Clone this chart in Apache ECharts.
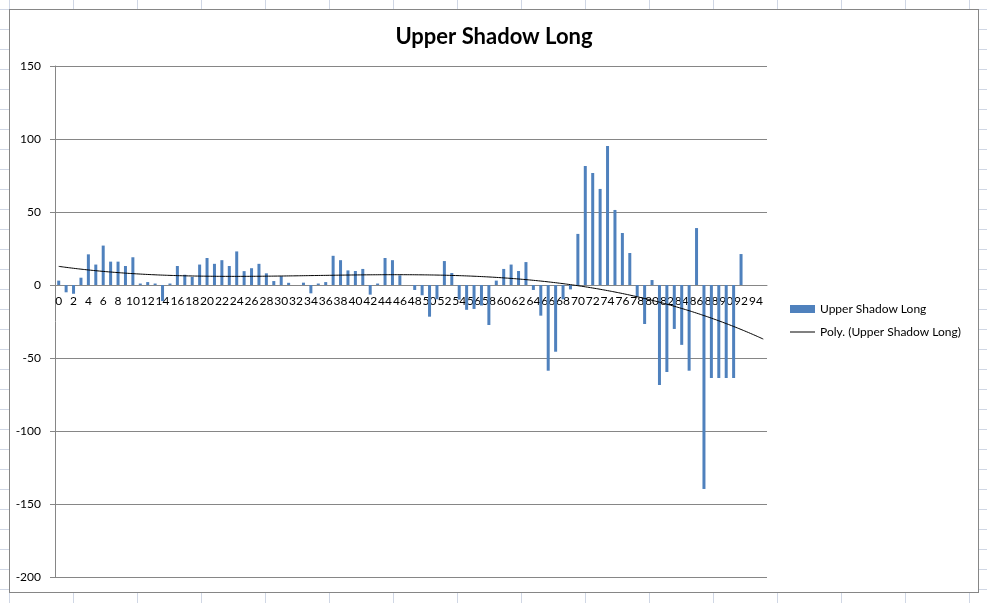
<!DOCTYPE html>
<html>
<head>
<meta charset="utf-8">
<title>Upper Shadow Long</title>
<script src="https://cdn.jsdelivr.net/npm/echarts@6/dist/echarts.min.js"></script>
<style>
    html, body {
        margin: 0;
        padding: 0;
        width: 987px;
        height: 603px;
        overflow: hidden;
        background-color: #fff;
        background-image: linear-gradient(to right, #d0d7e5 1px, transparent 1px),
                          linear-gradient(to bottom, #d0d7e5 1px, transparent 1px);
        background-size: 64px 20px;
        background-position: 9px 9px;
    }
    #chart {
        position: absolute;
        left: 9px;
        top: 9px;
        width: 970px;
        height: 584px;
        box-sizing: border-box;
        border: 1px solid #868686;
        background: #fff;
    }
</style>
</head>
<body>
<div id="chart"></div>
<script type="text/javascript">
// categories 0..95
var categories = [];
for (var i = 0; i < 96; i++) categories.push(String(i));

// values
var upperShadow = [
    3, -5, -6, 5, 21, 14, 27, 16, 16, 13,
    19, 1, 2, 1, -11, 1, 13, 7, 5.5, 14,
    18.5, 14.5, 17, 13, 23, 9.5, 11.5, 14.5, 8, 2.7,
    6, 1.5, 0, 1.6, -5.7, 1, 2, 20, 17, 10,
    9.6, 11, -6.6, 1, 18.5, 17, 6.6, 0, -3.4, -7,
    -21.7, -9.8, 16.4, 8.2, -10, -17, -16.4, -14, -27.4, 3,
    11, 14, 9.6, 15.7, -3.4, -21, -58.7, -45.7, -9.8, -3,
    35, 81.5, 76.7, 65.8, 95.2, 51.4, 35.6, 21.9, -8, -26.7,
    3.4, -68.5, -59.6, -30.1, -41, -58.7, 39, -139.7, -63.7, -63.7,
    -63.7, -63.7, 21.2, 0, 0, 0
];

var yTicks = { min: -200, max: 150, step: 50 };

// polynomial trendline (order 3), least squares like Excel's "Poly."
function polyFit(ys, order) {
    var n = order + 1, A = [], b = [];
    for (var r = 0; r < n; r++) {
        A.push([]);
        for (var c = 0; c < n; c++) A[r].push(0);
        b.push(0);
    }
    ys.forEach(function (y, x) {
        if (y === null) return;
        for (var r = 0; r < n; r++) {
            for (var c = 0; c < n; c++) A[r][c] += Math.pow(x, r + c);
            b[r] += y * Math.pow(x, r);
        }
    });
    for (var k = 0; k < n; k++) {
        var p = k;
        for (var r = k + 1; r < n; r++) if (Math.abs(A[r][k]) > Math.abs(A[p][k])) p = r;
        var t = A[k]; A[k] = A[p]; A[p] = t;
        t = b[k]; b[k] = b[p]; b[p] = t;
        for (var r = k + 1; r < n; r++) {
            var f = A[r][k] / A[k][k];
            for (var c = k; c < n; c++) A[r][c] -= f * A[k][c];
            b[r] -= f * b[k];
        }
    }
    var coef = [];
    for (var k = n - 1; k >= 0; k--) {
        var s = b[k];
        for (var c = k + 1; c < n; c++) s -= A[k][c] * coef[c];
        coef[k] = s / A[k][k];
    }
    return coef;
}
var coef = polyFit(upperShadow, 3);
var trend = categories.map(function (c, x) {
    var v = 0;
    for (var k = 0; k < coef.length; k++) v += coef[k] * Math.pow(x, k);
    return v;
});

var gridTop = 56, gridBottom = 15, chartH = 582;
var plotH = chartH - gridTop - gridBottom;
// move the category axis up to the value 0
var zeroOffset = -plotH * (0 - yTicks.min) / (yTicks.max - yTicks.min);

var font = 'Lato, "Open Sans", sans-serif';
var myChart = echarts.init(document.getElementById('chart'));
var option = {
    animation: false,
    textStyle: { fontFamily: font },
    title: {
        text: 'Upper Shadow Long',
        left: 'center',
        top: 11,
        textStyle: { fontFamily: font, fontSize: 22, fontWeight: 'bold', color: '#000' }
    },
    legend: [{
        orient: 'vertical',
        left: 780,
        top: 293,
        padding: 0,
        icon: 'rect',
        itemWidth: 25,
        itemHeight: 8,
        itemGap: 4,
        textStyle: { fontFamily: font, fontSize: 12, color: '#000' },
        data: ['Upper Shadow Long']
    }, {
        orient: 'vertical',
        left: 780,
        top: 316,
        padding: 0,
        icon: 'rect',
        itemWidth: 25,
        itemHeight: 1,
        itemGap: 4,
        itemStyle: { color: '#000' },
        textStyle: { fontFamily: font, fontSize: 12, color: '#000' },
        data: ['Poly. (Upper Shadow Long)']
    }],
    grid: { left: 45, right: 211, top: gridTop, bottom: gridBottom },
    xAxis: {
        type: 'category',
        data: categories,
        boundaryGap: true,
        offset: zeroOffset,
        axisLine: { onZero: false, lineStyle: { color: '#868686' } },
        axisTick: { interval: 0, length: 5, lineStyle: { color: '#868686' } },
        axisLabel: { interval: 1, margin: 10, fontSize: 12, color: '#000', fontFamily: font }
    },
    yAxis: {
        type: 'value',
        min: yTicks.min,
        max: yTicks.max,
        interval: yTicks.step,
        axisLine: { show: true, lineStyle: { color: '#868686' } },
        axisTick: { show: true, length: 5, lineStyle: { color: '#868686' } },
        axisLabel: { margin: 14, fontSize: 12, color: '#000', fontFamily: font },
        splitLine: { lineStyle: { color: '#868686' } }
    },
    series: [{
        name: 'Upper Shadow Long',
        type: 'bar',
        data: upperShadow,
        barWidth: 3,
        itemStyle: { color: '#4f81bd' }
    }, {
        name: 'Poly. (Upper Shadow Long)',
        type: 'line',
        data: trend,
        symbol: 'none',
        smooth: true,
        lineStyle: { color: '#000', width: 1 },
        itemStyle: { color: '#000' }
    }]
};
myChart.setOption(option);
</script>
</body>
</html>
